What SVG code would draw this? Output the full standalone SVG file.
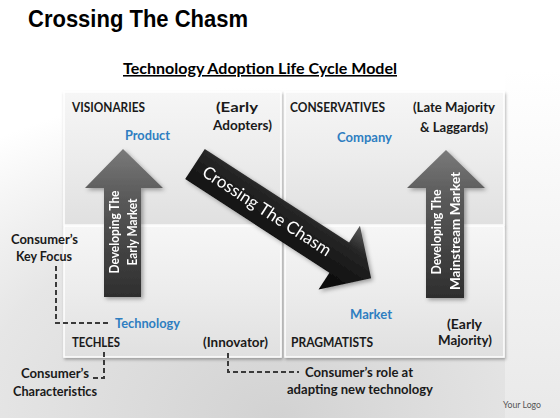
<svg xmlns="http://www.w3.org/2000/svg" width="560" height="420" viewBox="0 0 560 420">
<defs>
  <radialGradient id="bg" cx="0.5" cy="1" r="0.95" fx="0.55" fy="1">
    <stop offset="0" stop-color="#d2d2d2"/>
    <stop offset="0.6" stop-color="#e6e6e6"/>
    <stop offset="1" stop-color="#ffffff"/>
  </radialGradient>
  <linearGradient id="bgr" x1="0" y1="0" x2="0" y2="1">
    <stop offset="0" stop-color="#ffffff"/>
    <stop offset="1" stop-color="#e9e9e9"/>
  </linearGradient>
  <linearGradient id="quad" x1="0" y1="0" x2="0" y2="1">
    <stop offset="0" stop-color="#f6f6f6"/>
    <stop offset="0.5" stop-color="#ececec"/>
    <stop offset="1" stop-color="#e0e0e0"/>
  </linearGradient>
  <linearGradient id="up" x1="0" y1="0" x2="0" y2="1">
    <stop offset="0" stop-color="#7a7a7a"/>
    <stop offset="0.3" stop-color="#5c5c5c"/>
    <stop offset="1" stop-color="#2e2e2e"/>
  </linearGradient>
  <linearGradient id="chasm" x1="0" y1="0" x2="0" y2="1">
    <stop offset="0" stop-color="#5a5a5a"/>
    <stop offset="0.3" stop-color="#262626"/>
    <stop offset="1" stop-color="#050505"/>
  </linearGradient>
  <filter id="sh" x="-10%" y="-10%" width="120%" height="125%">
    <feDropShadow dx="1" dy="2" stdDeviation="1.5" flood-color="#000" flood-opacity="0.3"/>
  </filter>
  <filter id="ash" x="-20%" y="-20%" width="140%" height="140%">
    <feDropShadow dx="2" dy="2" stdDeviation="2" flood-color="#000" flood-opacity="0.35"/>
  </filter>
  <style>
    .quad { fill: url(#quad); stroke: #ffffff; stroke-width: 1.5; filter: url(#sh); }
    .lbl { font-family: Lato, "Open Sans", "Liberation Sans", sans-serif; font-weight: bold; font-size: 13px; fill: #1a1a1a; }
    .blue { fill: #2e7ec1; }
    .atxt { font-family: Lato, "Open Sans", "Liberation Sans", sans-serif; font-weight: bold; font-size: 13px; fill: #ffffff; }
    .dash { fill: none; stroke: #3a3a3a; stroke-width: 2; stroke-dasharray: 5 3; }
  </style>
</defs>

<rect x="0" y="0" width="560" height="420" fill="#ffffff"/>
<rect x="0" y="70" width="505" height="348" fill="url(#bg)"/>
<rect x="505" y="70" width="55" height="348" fill="url(#bgr)"/>

<g id="title">
  <text x="28" y="27" font-family="'Liberation Sans', Arial, sans-serif" font-weight="bold" font-size="23" fill="#000" textLength="220" lengthAdjust="spacingAndGlyphs">Crossing The Chasm</text>
</g>
<g id="subtitle">
  <text x="123" y="74" font-family="Lato, 'Open Sans', sans-serif" font-weight="bold" font-size="15.5" fill="#000" textLength="274" lengthAdjust="spacingAndGlyphs" text-decoration="underline">Technology Adoption Life Cycle Model</text>
</g>

<g id="quadrant-visionaries">
  <rect class="quad" x="64" y="92" width="217" height="133"/>
  <text class="lbl" x="72" y="112" textLength="73" lengthAdjust="spacingAndGlyphs">VISIONARIES</text>
  <text class="lbl" x="216" y="112" textLength="42" lengthAdjust="spacingAndGlyphs">(Early</text>
  <text class="lbl" x="213" y="130" textLength="59" lengthAdjust="spacingAndGlyphs">Adopters)</text>
  <text class="lbl blue" x="125" y="140" textLength="45" lengthAdjust="spacingAndGlyphs">Product</text>
</g>
<g id="quadrant-conservatives">
  <rect class="quad" x="285" y="92" width="219" height="133"/>
  <text class="lbl" x="290" y="112" textLength="95" lengthAdjust="spacingAndGlyphs">CONSERVATIVES</text>
  <text class="lbl" x="413" y="112" textLength="82" lengthAdjust="spacingAndGlyphs">(Late Majority</text>
  <text class="lbl" x="420" y="132" textLength="68" lengthAdjust="spacingAndGlyphs">&amp; Laggards)</text>
  <text class="lbl blue" x="337" y="142" textLength="55" lengthAdjust="spacingAndGlyphs">Company</text>
</g>
<g id="quadrant-techles">
  <rect class="quad" x="64" y="226" width="217" height="131"/>
  <text class="lbl blue" x="115" y="328" textLength="65" lengthAdjust="spacingAndGlyphs">Technology</text>
  <text class="lbl" x="72" y="347" textLength="48" lengthAdjust="spacingAndGlyphs">TECHLES</text>
  <text class="lbl" x="203" y="347" textLength="65" lengthAdjust="spacingAndGlyphs">(Innovator)</text>
</g>
<g id="quadrant-pragmatists">
  <rect class="quad" x="285" y="226" width="219" height="131"/>
  <text class="lbl blue" x="350" y="319" textLength="42" lengthAdjust="spacingAndGlyphs">Market</text>
  <text class="lbl" x="291" y="347" textLength="82" lengthAdjust="spacingAndGlyphs">PRAGMATISTS</text>
  <text class="lbl" x="447" y="329" textLength="35" lengthAdjust="spacingAndGlyphs">(Early</text>
  <text class="lbl" x="438" y="345" textLength="54" lengthAdjust="spacingAndGlyphs">Majority)</text>
</g>

<g id="arrow-early-market" filter="url(#ash)">
  <polygon points="123,149 163,188 141,188 141,297 104,297 104,188 85,188" fill="url(#up)"/>
  <text class="atxt" transform="translate(119,232) rotate(-90)" text-anchor="middle" textLength="83" lengthAdjust="spacingAndGlyphs">Developing The</text>
  <text class="atxt" transform="translate(137,232) rotate(-90)" text-anchor="middle" textLength="67" lengthAdjust="spacingAndGlyphs">Early Market</text>
</g>

<g id="arrow-mainstream-market" filter="url(#ash)">
  <polygon points="446,150 485,188 464,188 464,298 426,298 426,188 407,188" fill="url(#up)"/>
  <text class="atxt" transform="translate(441,232) rotate(-90)" text-anchor="middle" textLength="85" lengthAdjust="spacingAndGlyphs">Developing The</text>
  <text class="atxt" transform="translate(460,231) rotate(-90)" text-anchor="middle" textLength="118" lengthAdjust="spacingAndGlyphs">Mainstream  Market</text>
</g>

<g id="arrow-crossing-the-chasm" filter="url(#ash)">
  <g transform="translate(195,164) rotate(33)">
    <polygon points="0,-18 172,-18 172,-38 210,0 172,38 172,18 0,18" fill="url(#chasm)"/>
    <text x="86" y="6" text-anchor="middle" font-family="Lato, 'Open Sans', sans-serif" font-size="17" fill="#ffffff" textLength="150" lengthAdjust="spacingAndGlyphs">Crossing The Chasm</text>
  </g>
</g>

<g id="connectors">
  <path class="dash" d="M56,266 V323 H108"/>
  <path class="dash" d="M104,352 V378 H90"/>
  <path class="dash" d="M228,353 V372 H299"/>
</g>

<g id="note-key-focus">
  <text class="lbl" x="11" y="244" textLength="67" lengthAdjust="spacingAndGlyphs">Consumer’s</text>
  <text class="lbl" x="16" y="261" textLength="56" lengthAdjust="spacingAndGlyphs">Key Focus</text>
</g>
<g id="note-characteristics">
  <text class="lbl" x="21" y="378" textLength="68" lengthAdjust="spacingAndGlyphs">Consumer’s</text>
  <text class="lbl" x="13" y="396" textLength="84" lengthAdjust="spacingAndGlyphs">Characteristics</text>
</g>
<g id="note-role">
  <text class="lbl" x="305" y="377" textLength="108" lengthAdjust="spacingAndGlyphs">Consumer’s role at</text>
  <text class="lbl" x="287" y="394" textLength="146" lengthAdjust="spacingAndGlyphs">adapting new technology</text>
</g>

<g id="logo">
  <text x="503" y="408" font-family="Lato, 'Open Sans', sans-serif" font-size="9" fill="#555" textLength="38" lengthAdjust="spacingAndGlyphs">Your Logo</text>
</g>
</svg>
